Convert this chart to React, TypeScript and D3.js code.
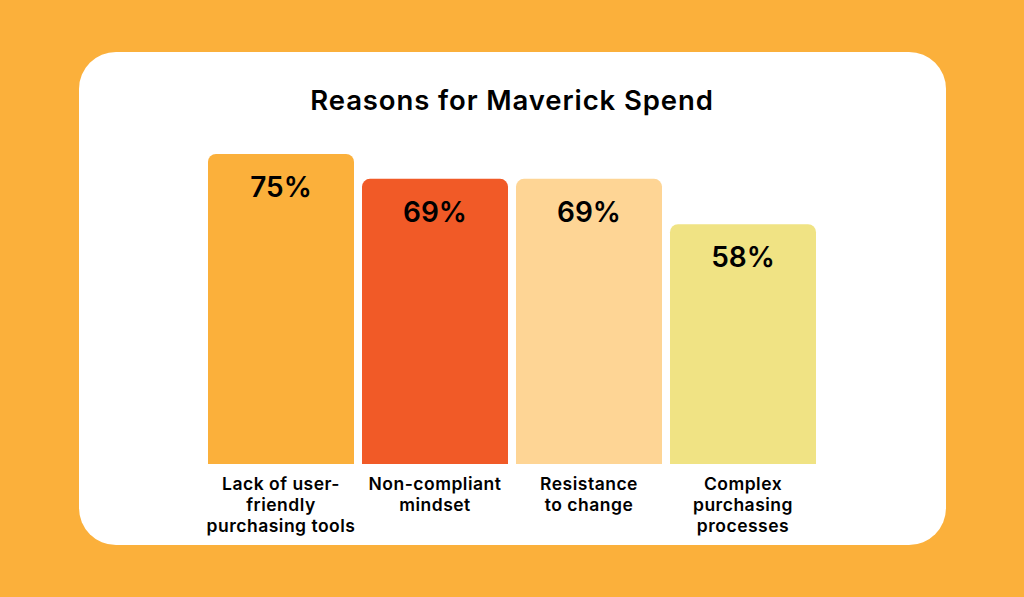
import { useEffect, useRef } from 'react';
import * as d3 from 'd3';

const categories = [
  [ 'Lack of user-', 'friendly', 'purchasing tools' ],
  [ 'Non-compliant', 'mindset' ],
  [ 'Resistance', 'to change' ],
  [ 'Complex', 'purchasing', 'processes' ],
];
const values = [ 75, 69, 69, 58 ];
const barColors = [ '#FBB03B', '#F15A27', '#FED595', '#F0E384' ];

const W = 1024;
const H = 597;
const BG = '#FBB03B';
const FONT = 'Inter, "Noto Sans", sans-serif';

function BarChart() {
  const svgRef = useRef<SVGSVGElement>( null );

  useEffect( () => {
    if ( !svgRef.current ) return;
    const svg = d3.select( svgRef.current );
    svg.selectAll( '*' ).remove();

    svg.attr( 'width', W ).attr( 'height', H ).style( 'font-family', FONT );

    // background + card
    svg.append( 'rect' ).attr( 'width', W ).attr( 'height', H ).attr( 'fill', BG );
    svg.append( 'rect' )
      .attr( 'x', 79 ).attr( 'y', 52 )
      .attr( 'width', 867 ).attr( 'height', 493 )
      .attr( 'rx', 37 )
      .attr( 'fill', '#ffffff' );

    svg.append( 'text' )
      .attr( 'x', 512 ).attr( 'y', 110 )
      .attr( 'text-anchor', 'middle' )
      .attr( 'font-size', 27.5 )
      .attr( 'font-weight', 600 )
      .attr( 'letter-spacing', 0.9 )
      .attr( 'fill', '#000' )
      .text( 'Reasons for Maverick Spend' );

    const idx = values.map( ( _, i ) => i );
    const x = d3.scaleBand<number>()
      .domain( idx )
      .range( [ 208, 816 ] )
      .paddingInner( 8 / 154 )
      .paddingOuter( 0 );

    const y = d3.scaleLinear()
      .domain( [ 0, d3.max( values ) || 75 ] )
      .range( [ 464, 154 ] );

    const r = 8;
    const barPath = ( i: number ) => {
      const x0 = x( i ) || 0;
      const w = x.bandwidth();
      const y0 = y( values[ i ] );
      const y1 = y( 0 );
      const p = d3.path();
      p.moveTo( x0, y1 );
      p.lineTo( x0, y0 + r );
      p.arcTo( x0, y0, x0 + r, y0, r );
      p.lineTo( x0 + w - r, y0 );
      p.arcTo( x0 + w, y0, x0 + w, y0 + r, r );
      p.lineTo( x0 + w, y1 );
      p.closePath();
      return p.toString();
    };

    const g = svg.append( 'g' );

    g.selectAll( 'path.bar' )
      .data( idx )
      .join( 'path' )
      .attr( 'class', 'bar' )
      .attr( 'd', i => barPath( i ) )
      .attr( 'fill', i => barColors[ i ] );

    g.selectAll( 'text.value' )
      .data( idx )
      .join( 'text' )
      .attr( 'class', 'value' )
      .attr( 'x', i => ( x( i ) || 0 ) + x.bandwidth() / 2 )
      .attr( 'y', i => y( values[ i ] ) + 43 )
      .attr( 'text-anchor', 'middle' )
      .attr( 'font-size', 28 )
      .attr( 'font-weight', 600 )
      .attr( 'fill', '#000' )
      .text( i => `${ values[ i ] }%` );

    // category labels
    const labels = g.selectAll( 'text.cat' )
      .data( idx )
      .join( 'text' )
      .attr( 'class', 'cat' )
      .attr( 'text-anchor', 'middle' )
      .attr( 'font-size', 17.5 )
      .attr( 'font-weight', 600 )
      .attr( 'letter-spacing', 0.5 )
      .attr( 'fill', '#000' );

    labels.each( function ( i ) {
      const t = d3.select( this );
      categories[ i ].forEach( ( line, j ) => {
        t.append( 'tspan' )
          .attr( 'x', ( x( i ) || 0 ) + x.bandwidth() / 2 )
          .attr( 'y', 490 + j * 21 )
          .text( line );
      } );
    } );
  }, [] );

  return <svg ref={ svgRef } style={ { display: 'block' } } />;
}

export default function App() {
  return (
    <div style={ { position: 'fixed', left: 0, top: 0, width: W, height: H } }>
      <BarChart />
    </div>
  );
}
